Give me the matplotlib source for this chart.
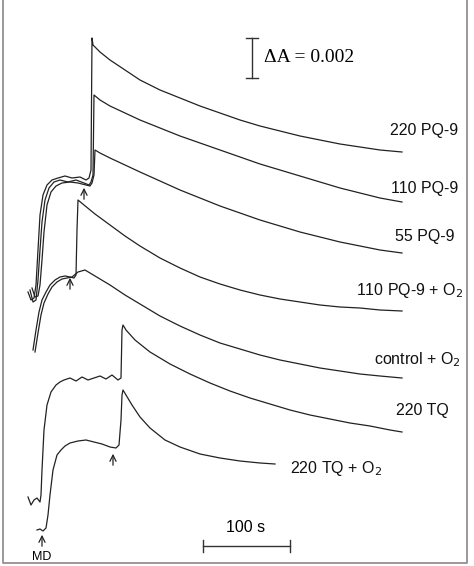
import matplotlib
matplotlib.use("Agg")
import matplotlib.pyplot as plt

# Traces: (x, y) (x ~ time, y ~ absorbance, plotting units)
t_220pq = [28, 31, 34, 36, 38, 40, 43, 47, 52, 58, 65, 72, 80, 86, 89, 91, 92, 93, 100, 110, 125, 140, 160, 180, 200, 220, 240, 260, 280, 300, 320, 340, 360, 380, 402]
a_220pq = [292, 300, 298, 285, 250, 215, 195, 185, 180, 178, 176, 178, 177, 180, 178, 170, 38, 45, 52, 60, 70, 80, 90, 98, 106, 113, 120, 126, 131, 136, 140, 144, 147, 150, 152]
t_110pq = [30, 33, 36, 38, 40, 42, 45, 49, 54, 60, 68, 76, 84, 89, 91, 93, 94, 100, 110, 125, 140, 160, 180, 200, 220, 240, 260, 280, 300, 320, 340, 360, 380, 402]
a_110pq = [290, 302, 300, 280, 250, 222, 200, 188, 182, 180, 182, 180, 183, 185, 182, 175, 95, 100, 106, 113, 120, 128, 136, 143, 150, 157, 164, 170, 176, 182, 188, 193, 198, 202]
t_55pq = [32, 35, 38, 40, 42, 44, 47, 51, 56, 62, 70, 78, 86, 90, 92, 94, 95, 100, 110, 125, 140, 160, 180, 200, 220, 240, 260, 280, 300, 320, 340, 360, 380, 402]
a_55pq = [288, 297, 296, 285, 260, 232, 205, 192, 186, 183, 182, 183, 185, 186, 183, 175, 150, 153, 158, 165, 172, 181, 190, 198, 206, 213, 220, 226, 232, 237, 242, 246, 250, 253]
t_110pqo2 = [33, 36, 39, 42, 46, 50, 55, 60, 65, 70, 74, 76, 77, 78, 84, 95, 110, 125, 140, 160, 180, 200, 220, 240, 260, 280, 300, 320, 340, 360, 380, 402]
a_110pqo2 = [350, 330, 312, 300, 292, 285, 280, 277, 276, 277, 278, 275, 230, 200, 205, 214, 225, 236, 246, 258, 268, 277, 284, 290, 295, 299, 302, 305, 307, 308, 310, 311]
t_ctrlo2 = [35, 38, 41, 44, 48, 52, 57, 62, 67, 72, 78, 85, 95, 110, 125, 140, 160, 180, 200, 220, 240, 260, 280, 300, 320, 340, 360, 380, 402]
a_ctrlo2 = [352, 333, 315, 303, 294, 287, 282, 279, 278, 277, 272, 270, 276, 285, 295, 304, 316, 326, 335, 343, 349, 355, 360, 364, 368, 371, 374, 376, 378]
t_220tq = [28, 31, 34, 37, 40, 41, 42, 44, 47, 51, 56, 60, 64, 70, 76, 82, 88, 94, 100, 106, 112, 118, 121, 122, 123, 126, 135, 150, 170, 190, 210, 230, 250, 270, 290, 310, 330, 350, 370, 390, 402]
a_220tq = [497, 505, 500, 498, 502, 495, 470, 430, 405, 392, 385, 382, 380, 378, 381, 377, 380, 378, 376, 379, 375, 380, 378, 330, 325, 330, 340, 352, 364, 374, 383, 391, 398, 404, 410, 415, 419, 423, 426, 430, 432]
t_220tqo2 = [37, 40, 43, 46, 48, 50, 53, 57, 61, 65, 70, 78, 86, 94, 102, 110, 116, 119, 121, 122, 123, 126, 132, 140, 150, 165, 180, 200, 220, 240, 260, 275]
a_220tqo2 = [530, 529, 531, 528, 515, 495, 470, 455, 450, 446, 443, 441, 440, 442, 444, 447, 448, 445, 420, 395, 390, 395, 405, 417, 428, 440, 447, 454, 458, 461, 463, 464]

series = [(t_220pq, a_220pq), (t_110pq, a_110pq), (t_55pq, a_55pq),
          (t_110pqo2, a_110pqo2), (t_ctrlo2, a_ctrlo2),
          (t_220tq, a_220tq), (t_220tqo2, a_220tqo2)]

labels = ["220 PQ-9", "110 PQ-9", "55 PQ-9", "110 PQ-9 + O$_2$",
          "control + O$_2$", "220 TQ", "220 TQ + O$_2$"]
label_x = [458, 458, 455, 463, 461, 449, 382]
label_y = [130, 188, 237, 290, 360, 411, 468]

arrow_x = [84, 70, 113, 42]
arrow_y = [202, 292, 468, 549]

fig = plt.figure(figsize=(4.74, 5.66), dpi=100)
ax = fig.add_axes([0, 0, 1, 1])
ax.set_xlim(0, 474)
ax.set_ylim(566, 0)
ax.axis("off")

for t, a in series:
    ax.plot(t, a, color="#222222", lw=0.9)

for lab, x, y in zip(labels, label_x, label_y):
    ax.text(x, y, lab, ha="right", va="center", fontsize=11.5,
            family="Liberation Sans", color="#111111")

for x, y in zip(arrow_x, arrow_y):
    ax.annotate("", xy=(x, y - 17), xytext=(x, y),
                arrowprops=dict(arrowstyle="->", lw=0.9, color="#222222",
                                mutation_scale=11))
ax.text(42, 557, "MD", ha="center", va="center", fontsize=9, family="Liberation Sans")

# Delta A scale bar
ax.plot([252, 252], [38, 78], color="#333333", lw=1)
ax.plot([246, 258], [38, 38], color="#333333", lw=1)
ax.plot([246, 258], [78, 78], color="#333333", lw=1)
ax.text(264, 58, "ΔA = 0.002", ha="left", va="center", fontsize=14,
        family="Liberation Serif")

# time scale bar
ax.plot([203, 290], [546, 546], color="#333333", lw=1)
ax.plot([203, 203], [540, 552], color="#333333", lw=1)
ax.plot([290, 290], [540, 552], color="#333333", lw=1)
ax.text(246, 528, "100 s", ha="center", va="center", fontsize=11.5, family="Liberation Sans")

# frame
ax.plot([3, 3, 467, 467], [0, 563, 563, 0], color="#888888", lw=1.2)

fig.savefig("out.png", dpi=100)
